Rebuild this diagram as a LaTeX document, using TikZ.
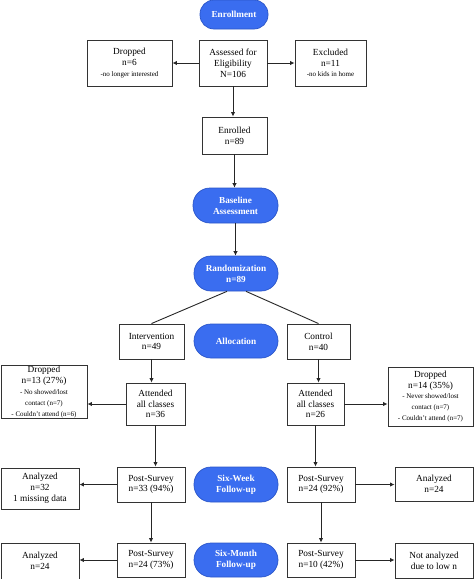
\documentclass[tikz,border=0pt]{standalone}
\usepackage{fontspec}
\setmainfont{Liberation Serif}
\usetikzlibrary{arrows.meta,calc}
\definecolor{pillblue}{HTML}{3A6DF0}
\definecolor{pilledge}{HTML}{2A55C8}
\tikzset{
  box/.style={draw=black!80, line width=0.9pt, fill=white, align=center, inner sep=1pt,
    font=\fontsize{9.3}{10.8}\selectfont},
  pill/.style={draw=pilledge, line width=0.7pt, fill=pillblue, align=center, text=white,
    inner sep=1pt, font=\fontsize{9.2}{10.8}\selectfont\bfseries},
  arr/.style={-{Latex[length=4.5pt,width=4.5pt]}, line width=0.9pt, black!85},
  ln/.style={line width=0.9pt, black!85},
}
\newcommand{\sm}[1]{{\fontsize{7}{8}\selectfont #1}}
\begin{document}
\begin{tikzpicture}[x=1pt,y=-1pt]
\useasboundingbox (0,0) rectangle (474,579);
% pills
\node[pill, minimum width=68pt, minimum height=29pt, rounded corners=14pt] (enroll) at (234,14.5) {Enrollment};
\node[pill, minimum width=85pt, minimum height=35pt, rounded corners=17pt] (base) at (235.5,205.5) {Baseline\\Assessment};
\node[pill, minimum width=84pt, minimum height=35pt, rounded corners=17pt] (rand) at (236,273.5) {Randomization\\n=89};
\node[pill, minimum width=84pt, minimum height=34pt, rounded corners=17pt] (alloc) at (236,341) {Allocation};
\node[pill, minimum width=84pt, minimum height=35pt, rounded corners=17pt] (sixw) at (236,484.5) {Six-Week\\Follow-up};
\node[pill, minimum width=84pt, minimum height=34pt, rounded corners=17pt] (sixm) at (236,560) {Six-Month\\Follow-up};
% boxes
\node[box, minimum width=68pt, minimum height=46pt] (assess) at (233,63) {Assessed for\\Eligibility\\N=106};
\node[box, minimum width=85pt, minimum height=46pt] (drop1) at (129.5,63) {Dropped\\n=6\\\sm{-no longer interested}};
\node[box, minimum width=71pt, minimum height=46pt] (excl) at (330.5,63) {Excluded\\n=11\\\sm{-no kids in home}};
\node[box, minimum width=65pt, minimum height=37pt] (enrolled) at (234.5,135.5) {Enrolled\\n=89};
\node[box, minimum width=65pt, minimum height=35pt] (interv) at (151.5,341.5) {Intervention\\n=49};
\node[box, minimum width=63pt, minimum height=35pt] (ctrl) at (318.5,341.5) {Control\\n=40};
\node[box, minimum width=59pt, minimum height=42pt] (att1) at (155.5,404) {Attended\\all classes\\n=36};
\node[box, minimum width=57pt, minimum height=42pt] (att2) at (315.5,404) {Attended\\all classes\\n=26};
\node[box, minimum width=86pt, minimum height=50pt] (drop2) at (44,392) {Dropped\\n=13 (27\%)\\\sm{- No showed/lost}\\\sm{contact (n=7)}\\\sm{- Couldn't attend (n=6)}};
\node[box, minimum width=85pt, minimum height=59pt] (drop3) at (430.5,396.5) {Dropped\\n=14 (35\%)\\\sm{- Never showed/lost}\\\sm{contact (n=7)}\\\sm{- Couldn't attend (n=7)}};
\node[box, minimum width=68pt, minimum height=35pt] (ps1) at (151,484.5) {Post-Survey\\n=33 (94\%)};
\node[box, minimum width=68pt, minimum height=35pt] (ps2) at (321,484.5) {Post-Survey\\n=24 (92\%)};
\node[box, minimum width=78pt, minimum height=41pt] (an1) at (40,488.5) {Analyzed\\n=32\\1 missing data};
\node[box, minimum width=78pt, minimum height=34pt] (an2) at (434,484) {Analyzed\\n=24};
\node[box, minimum width=68pt, minimum height=34pt] (ps3) at (151,560) {Post-Survey\\n=24 (73\%)};
\node[box, minimum width=68pt, minimum height=34pt] (ps4) at (321,560) {Post-Survey\\n=10 (42\%)};
\node[box, minimum width=78pt, minimum height=36pt] (an3) at (40,561) {Analyzed\\n=24};
\node[box, minimum width=78pt, minimum height=35pt] (notan) at (434,560.5) {Not analyzed\\due to low n};
% connectors
\draw[arr] (assess.west) -- (drop1.east);
\draw[arr] (assess.east) -- (excl.west);
\draw[arr] (assess.south) -- (assess.south |- enrolled.north);
\draw[arr] (enrolled.south) -- (enrolled.south |- base.north);
\draw[arr] (base.south) -- (base.south |- rand.north);
\draw[ln] ($(rand.south)+(-9,0)$) -- (interv.north);
\draw[ln] ($(rand.south)+(10,0)$) -- (ctrl.north);
\draw[arr] (interv.south) -- (interv.south |- att1.north);
\draw[arr] (ctrl.south) -- (ctrl.south |- att2.north);
\draw[arr] (att1.west) -- (drop2.east |- att1.west);
\draw[arr] (att2.east) -- (drop3.west |- att2.east);
\draw[arr] (att1.south) -- (att1.south |- ps1.north);
\draw[arr] (att2.south) -- (att2.south |- ps2.north);
\draw[arr] (ps1.west) -- (an1.east |- ps1.west);
\draw[arr] (ps2.east) -- (an2.west |- ps2.east);
\draw[arr] (ps1.south) -- (ps1.south |- ps3.north);
\draw[arr] (ps2.south) -- (ps2.south |- ps4.north);
\draw[arr] (ps3.west) -- (an3.east |- ps3.west);
\draw[arr] (ps4.east) -- (notan.west |- ps4.east);
\end{tikzpicture}
\end{document}
